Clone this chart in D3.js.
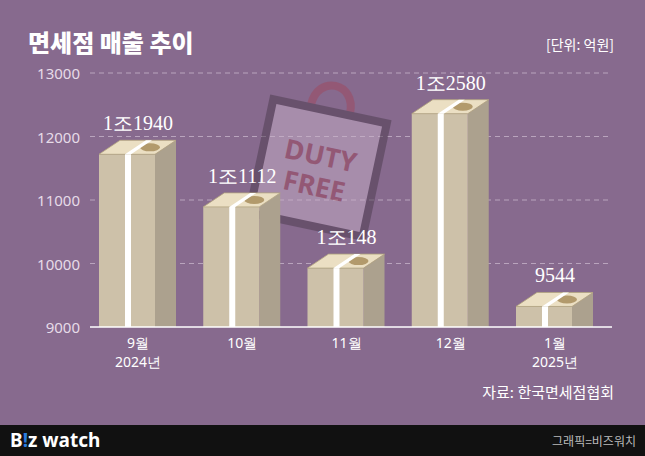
<!DOCTYPE html><html><head><meta charset="utf-8"><script src="https://cdn.jsdelivr.net/npm/d3@7"></script>
<style>body{margin:0}svg{display:block}</style></head><body><script>
const categories=["9월","10월","11월","12월","1월"];
const subLabels=["2024년","","","","2025년"];
const values=[11940,11112,10148,12580,9544];
const valueLabels=["1조1940","1조1112","1조148","1조2580","9544"];
const yTicks=[9000,10000,11000,12000,13000];
const W=645,H=456;
const svg=d3.select("body").append("svg").attr("width",W).attr("height",H);
svg.append("rect").attr("width",W).attr("height",H).attr("fill","#876a8e");
const y=d3.scaleLinear().domain([9000,13000]).range([327,73]);
const x=d3.scalePoint().domain(categories).range([138,555]);
svg.append("g").selectAll("line").data(yTicks.slice(1)).join("line")
 .attr("x1",90).attr("x2",612).attr("y1",d=>y(d)).attr("y2",d=>y(d))
 .attr("stroke","#b9a4bd").attr("stroke-dasharray","5,4").attr("stroke-width",1);
svg.append("g").selectAll("text").data(yTicks).join("text")
 .attr("x",80).attr("y",d=>y(d)+6).attr("text-anchor","end").attr("fill","#e6dbe8")
 .attr("font-family","Noto Sans").attr("font-size",15).text(d=>d);
const bag=svg.append("g").attr("transform","translate(318,168) rotate(12)").attr("opacity",0.5);
bag.append("path").attr("d","M-20,-60 C-20,-92 20,-92 20,-60").attr("fill","none").attr("stroke","#a0485e").attr("stroke-width",8);
bag.append("rect").attr("x",-58).attr("y",-58).attr("width",116).attr("height",116).attr("fill","#c8b0c8").attr("stroke","#4a3a4c").attr("stroke-width",8);
bag.append("text").attr("y",-3).attr("text-anchor","middle").attr("font-family","Noto Sans").attr("font-weight","bold").attr("font-size",27).attr("fill","#a0485e").text("DUTY");
bag.append("text").attr("y",28).attr("text-anchor","middle").attr("font-family","Noto Sans").attr("font-weight","bold").attr("font-size",27).attr("fill","#a0485e").text("FREE");
const g=svg.append("g");
values.forEach((v,i)=>{
 const cx=x(categories[i]), x0=cx-39, x1=cx+17, x2=cx+38, d=14, top=y(v)+d, base=y(9000);
 g.append("path").attr("d",`M${x1},${top} L${x2},${top-d} L${x2},${base} L${x1},${base}Z`).attr("fill","#aca18e");
 g.append("rect").attr("x",x0).attr("y",top).attr("width",x1-x0).attr("height",base-top).attr("fill","#cdc1a9");
 g.append("path").attr("d",`M${x0},${top} L${x1},${top} L${x2},${top-d} L${x0+21},${top-d}Z`).attr("fill","#ebdfc3").attr("stroke","#b3a47f").attr("stroke-width",0.8);
 g.append("ellipse").attr("cx",cx+12).attr("cy",top-7).attr("rx",10).attr("ry",4).attr("fill","#b29a6c");
 g.append("rect").attr("x",cx-13).attr("y",top).attr("width",6).attr("height",base-top).attr("fill","#fff");
 g.append("path").attr("d",`M${cx-13},${top} L${cx-7},${top} L${cx+14},${top-d} L${cx+8},${top-d}Z`).attr("fill","#fff");
 g.append("text").attr("x",cx).attr("y",y(v)-10).attr("text-anchor","middle").attr("fill","#fff")
  .attr("font-family","Liberation Serif").attr("font-size",20).text(valueLabels[i]);
 g.append("text").attr("x",cx).attr("y",348).attr("text-anchor","middle").attr("fill","#fff").attr("font-family","Noto Sans").attr("font-size",14).text(categories[i]);
 if(subLabels[i]) g.append("text").attr("x",cx).attr("y",367).attr("text-anchor","middle").attr("fill","#fff").attr("font-family","Noto Sans").attr("font-size",14).text(subLabels[i]);
});
svg.append("line").attr("x1",90).attr("x2",612).attr("y1",327).attr("y2",327).attr("stroke","#fff").attr("stroke-width",1.5);
svg.append("text").attr("x",28).attr("y",52).attr("fill","#fff").attr("font-family","Noto Sans CJK KR").attr("font-weight","900").attr("font-size",24).text("면세점 매출 추이");
svg.append("text").attr("x",614).attr("y",50).attr("text-anchor","end").attr("fill","#fff").attr("font-family","Noto Sans CJK KR").attr("font-size",14).text("[단위: 억원]");
svg.append("text").attr("x",614).attr("y",398).attr("text-anchor","end").attr("fill","#fff").attr("font-family","Noto Sans CJK KR").attr("font-size",15).text("자료: 한국면세점협회");
svg.append("rect").attr("y",425).attr("width",W).attr("height",31).attr("fill","#111");
const lg=svg.append("text").attr("x",10).attr("y",447).attr("font-family","Noto Sans").attr("font-weight","bold").attr("font-size",19).attr("fill","#fff");
lg.append("tspan").text("B");lg.append("tspan").attr("fill","#2a7de1").text("!");lg.append("tspan").text("z watch");
svg.append("text").attr("x",636).attr("y",446).attr("text-anchor","end").attr("fill","#bbb").attr("font-family","Noto Sans CJK KR").attr("font-size",12).text("그래픽=비즈워치");
</script></body></html>
